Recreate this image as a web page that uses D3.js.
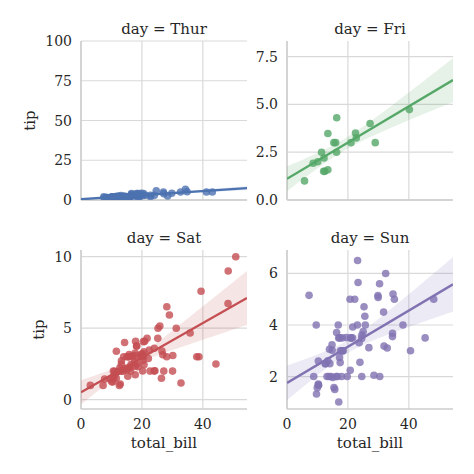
<!DOCTYPE html>
<html>
<head>
<meta charset="utf-8">
<script src="https://cdn.jsdelivr.net/npm/d3@7"></script>
<style>
  body { margin: 0; background: #fff; }
  text { font-family: "DejaVu Serif", serif; fill: #262626; }
</style>
</head>
<body>
<div class="chart"></div>
<script>

var width = 474,
  height = 474;

// tips data, split by day
var thurBill = [27.2,22.76,17.29,19.44,16.66,10.07,32.68,15.98,34.83,13.03,18.28,24.71,21.16,
  10.65,12.43,24.08,11.69,13.42,14.26,15.95,12.48,29.8,8.52,14.52,11.38,22.82,19.08,20.27,11.17,
  12.26,18.26,8.51,10.33,14.15,16.0,13.16,17.47,34.3,41.19,27.05,16.43,8.35,18.64,11.87,9.78,7.51,
  19.81,28.44,15.48,16.58,7.56,10.34,43.11,13.0,13.51,18.71,12.74,13.0,16.4,20.53,16.47,18.78];
var thurTip = [4.0,3.0,2.71,3.0,3.4,1.83,5.0,2.03,5.17,2.0,4.0,5.85,3.0,
  1.5,1.8,2.92,2.31,1.68,2.5,2.0,2.52,4.2,1.48,2.0,2.0,2.18,1.5,2.83,1.5,
  2.0,3.25,1.25,2.0,2.0,2.0,2.75,3.5,6.7,5.0,5.0,2.3,1.5,1.36,1.63,1.73,2.0,
  4.19,2.56,2.02,4.0,1.44,2.0,5.0,2.0,2.0,4.0,2.01,2.0,2.5,4.0,3.23,3.0];

var friBill = [28.97,22.49,5.75,16.32,22.75,40.17,27.28,12.03,21.01,12.46,11.35,15.38,
  12.16,13.42,8.58,15.98,13.42,16.27,10.09];
var friTip = [3.0,3.5,1.0,4.3,3.25,4.73,4.0,1.5,3.0,1.5,2.5,3.0,
  2.2,3.48,1.92,3.0,1.58,2.5,2.0];

var satBill = [20.65,17.92,20.29,15.77,39.42,19.82,17.81,13.37,12.69,21.7,19.65,9.55,18.35,15.06,
  20.69,17.78,24.06,16.31,16.93,18.69,31.27,16.04,
  38.01,26.41,11.24,48.27,20.29,13.81,11.02,18.29,17.59,20.08,16.45,3.07,20.23,15.01,12.02,17.07,
  26.86,25.28,14.73,10.51,17.92,
  44.3,22.42,20.92,15.36,20.49,25.21,18.24,14.31,14.0,7.25,
  10.59,10.63,50.81,15.81,
  26.59,38.73,24.27,12.76,30.06,25.89,48.33,13.27,28.17,12.9,28.15,11.59,7.74,30.14,
  20.45,13.28,22.12,24.01,15.69,11.61,10.77,15.53,10.07,12.6,32.83,35.83,29.03,27.18,22.67,17.82];
var satTip = [3.35,4.08,2.75,2.23,7.58,3.18,2.34,2.0,2.0,4.3,3.0,1.45,2.5,3.0,
  2.45,3.27,3.6,2.0,3.07,2.31,5.0,2.24,
  3.0,1.5,1.76,6.73,3.21,2.0,1.98,3.76,2.64,3.15,2.47,1.0,2.01,2.09,1.97,3.0,
  3.14,5.0,2.2,1.25,3.08,
  2.5,3.48,4.08,1.64,4.06,4.29,3.76,4.0,3.0,1.0,
  1.61,2.0,10.0,3.16,
  3.41,3.0,2.03,2.23,2.0,5.16,9.0,2.5,6.5,1.1,3.0,1.5,1.44,3.09,
  3.0,2.72,2.88,2.0,3.0,3.39,1.47,3.0,1.25,1.0,1.17,4.67,5.92,2.0,2.0,1.75];

var sunBill = [16.99,10.34,21.01,23.68,24.59,25.29,8.77,26.88,15.04,14.78,10.27,35.26,15.42,18.43,
  14.83,21.58,10.33,16.29,16.97,
  17.46,13.94,9.68,30.4,18.29,22.23,32.4,28.55,18.04,12.54,10.29,34.81,9.94,25.56,19.49,
  38.07,23.95,25.71,17.31,29.93,
  14.07,13.13,17.26,24.55,19.77,29.85,48.17,25.0,13.39,16.49,21.5,12.66,16.21,13.81,17.51,24.52,
  20.76,31.71,
  7.25,31.85,16.82,32.9,17.89,14.48,9.6,34.63,34.65,23.33,45.35,23.17,40.55,20.69,20.9,30.46,
  18.15,23.1,15.69];
var sunTip = [1.01,1.66,3.5,3.31,3.61,4.71,2.0,3.12,1.96,3.23,1.71,5.0,1.57,3.0,
  3.02,3.92,1.67,3.71,3.5,
  2.54,3.06,1.32,5.6,3.0,5.0,6.0,2.05,3.0,2.5,2.6,5.2,1.56,4.34,3.51,
  4.0,2.55,4.0,3.5,5.07,
  2.5,2.0,2.74,2.0,2.0,5.14,5.0,3.75,2.61,2.0,3.5,2.5,2.0,2.0,3.0,3.48,
  2.24,4.5,
  5.15,3.18,4.0,3.11,2.0,2.0,4.0,3.55,3.68,5.65,3.5,6.5,3.0,5.0,3.5,2.0,
  3.5,4.0,1.5];

var days = ['Thur', 'Fri', 'Sat', 'Sun'];
var colors = ['#4C72B0', '#55A868', '#C44E52', '#8172B2'];
var xTicks = [0, 20, 40];
var yTicksThur = [0, 25, 50, 75, 100];
var yTicksFri = [0, 2.5, 5, 7.5];
var yTicksSat = [0, 5, 10];
var yTicksSun = [2, 4, 6];

var xDomain = [0, 54.5];
var yDomains = [[0, 100], [0, 8.32], [-0.65, 10.47], [0.74, 6.91]];

var panels = [
  {day: days[0], bill: thurBill, tip: thurTip, color: colors[0], yTicks: yTicksThur, fmt: d3.format('d'), yDomain: yDomains[0], col: 0, row: 0},
  {day: days[1], bill: friBill, tip: friTip, color: colors[1], yTicks: yTicksFri, fmt: d3.format('.1f'), yDomain: yDomains[1], col: 1, row: 0},
  {day: days[2], bill: satBill, tip: satTip, color: colors[2], yTicks: yTicksSat, fmt: d3.format('d'), yDomain: yDomains[2], col: 0, row: 1},
  {day: days[3], bill: sunBill, tip: sunTip, color: colors[3], yTicks: yTicksSun, fmt: d3.format('d'), yDomain: yDomains[3], col: 1, row: 1}
];

var lefts = [81, 287],
  tops = [41, 250],
  pw = 166,
  ph = 159;

var svg = d3.select('.chart')
  .append('svg')
  .attr('width', width)
  .attr('height', height);

//OLS fit + HC3 sandwich interval (stands in for seaborn's bootstrap band)
function fit(xs, ys) {
  var n = xs.length,
    sx = d3.sum(xs), sxx = d3.sum(xs, function(v) { return v * v; }),
    sy = d3.sum(ys), sxy = d3.sum(xs, function(v, i) { return v * ys[i]; });
  var det = n * sxx - sx * sx;
  var b = (n * sxy - sx * sy) / det,
    a = (sy - b * sx) / n;
  // inverse of X'X
  var i00 = sxx / det, i01 = -sx / det, i11 = n / det;
  var m00 = 0, m01 = 0, m11 = 0;
  xs.forEach(function(x, i) {
    var e = ys[i] - (a + b * x);
    var h = i00 + 2 * i01 * x + i11 * x * x;
    var w = e * e / ((1 - h) * (1 - h));
    m00 += w; m01 += w * x; m11 += w * x * x;
  });
  // V = inv * M * inv
  var t00 = i00 * m00 + i01 * m01, t01 = i00 * m01 + i01 * m11,
    t10 = i01 * m00 + i11 * m01, t11 = i01 * m01 + i11 * m11;
  var v00 = t00 * i00 + t01 * i01, v01 = t00 * i01 + t01 * i11,
    v11 = t10 * i01 + t11 * i11;
  return {
    y: function(x) { return a + b * x; },
    se: function(x) { return Math.sqrt(v00 + 2 * v01 * x + v11 * x * x); }
  };
}

panels.forEach(function(p, k) {
  var x0 = lefts[p.col], y0 = tops[p.row];

  var xScale = d3.scaleLinear().domain(xDomain).range([x0, x0 + pw]);
  var yScale = d3.scaleLinear().domain(p.yDomain).range([y0 + ph, y0]);

  var g = svg.append('g');

  g.append('clipPath').attr('id', 'clip' + k)
    .append('rect')
    .attr('x', x0).attr('y', y0).attr('width', pw).attr('height', ph);

  //GRID
  g.selectAll('.gx').data(xTicks).enter()
    .append('line')
    .attr('x1', function(d) { return xScale(d); })
    .attr('x2', function(d) { return xScale(d); })
    .attr('y1', y0).attr('y2', y0 + ph)
    .attr('stroke', '#d9d9d9').attr('stroke-width', 1.2);

  g.selectAll('.gy').data(p.yTicks).enter()
    .append('line')
    .attr('x1', x0).attr('x2', x0 + pw)
    .attr('y1', function(d) { return yScale(d); })
    .attr('y2', function(d) { return yScale(d); })
    .attr('stroke', '#d9d9d9').attr('stroke-width', 1.2);

  //SPINES (left + bottom only)
  g.append('line').attr('x1', x0).attr('x2', x0).attr('y1', y0).attr('y2', y0 + ph)
    .attr('stroke', '#cccccc').attr('stroke-width', 1.4);
  g.append('line').attr('x1', x0).attr('x2', x0 + pw).attr('y1', y0 + ph).attr('y2', y0 + ph)
    .attr('stroke', '#cccccc').attr('stroke-width', 1.4);

  //TICK LABELS
  var yl = g.selectAll('.yt').data(p.yTicks).enter()
    .append('text')
    .attr('x', x0 - 9)
    .attr('y', function(d) { return yScale(d); })
    .attr('dy', '0.36em')
    .attr('text-anchor', 'end')
    .style('font-size', '14px')
    .text(p.fmt);

  if (p.row == 1) {
    g.selectAll('.xt').data(xTicks).enter()
      .append('text')
      .attr('x', function(d) { return xScale(d); })
      .attr('y', y0 + ph + 20)
      .attr('text-anchor', 'middle')
      .style('font-size', '14px')
      .text(function(d) { return d; });

    g.append('text')
      .attr('x', x0 + pw / 2)
      .attr('y', y0 + ph + 39)
      .attr('text-anchor', 'middle')
      .style('font-size', '15px')
      .text('total_bill');
  }

  if (p.col == 0) {
    var tw = d3.max(yl.nodes(), function(n) { return n.getComputedTextLength(); });
    var lx = x0 - 9 - tw - 10;
    g.append('text')
      .attr('transform', 'translate(' + lx + ',' + (y0 + ph / 2) + ') rotate(-90)')
      .attr('text-anchor', 'middle')
      .style('font-size', '15px')
      .text('tip');
  }

  //TITLE
  g.append('text')
    .attr('x', x0 + pw / 2)
    .attr('y', y0 - 7)
    .attr('text-anchor', 'middle')
    .style('font-size', '15px')
    .text('day = ' + p.day);

  //POINTS
  g.append('g').attr('clip-path', 'url(#clip' + k + ')')
    .selectAll('circle')
    .data(p.bill)
    .enter()
    .append('circle')
    .attr('cx', function(d) { return xScale(d); })
    .attr('cy', function(d, i) { return yScale(p.tip[i]); })
    .attr('r', 3.8)
    .style('fill', p.color)
    .style('fill-opacity', 0.8);

  //REGRESSION
  var f = fit(p.bill, p.tip);
  var grid = d3.range(0, 101).map(function(i) { return xDomain[0] + (xDomain[1] - xDomain[0]) * i / 100; });

  var band = d3.area()
    .x(function(d) { return xScale(d); })
    .y0(function(d) { return yScale(f.y(d) - 1.96 * f.se(d)); })
    .y1(function(d) { return yScale(f.y(d) + 1.96 * f.se(d)); });

  g.append('path')
    .attr('clip-path', 'url(#clip' + k + ')')
    .attr('d', band(grid))
    .style('fill', p.color)
    .style('fill-opacity', 0.15);

  g.append('line')
    .attr('clip-path', 'url(#clip' + k + ')')
    .attr('x1', xScale(xDomain[0])).attr('y1', yScale(f.y(xDomain[0])))
    .attr('x2', xScale(xDomain[1])).attr('y2', yScale(f.y(xDomain[1])))
    .attr('stroke', p.color)
    .attr('stroke-width', 2.4);
});

</script>
</body>
</html>
